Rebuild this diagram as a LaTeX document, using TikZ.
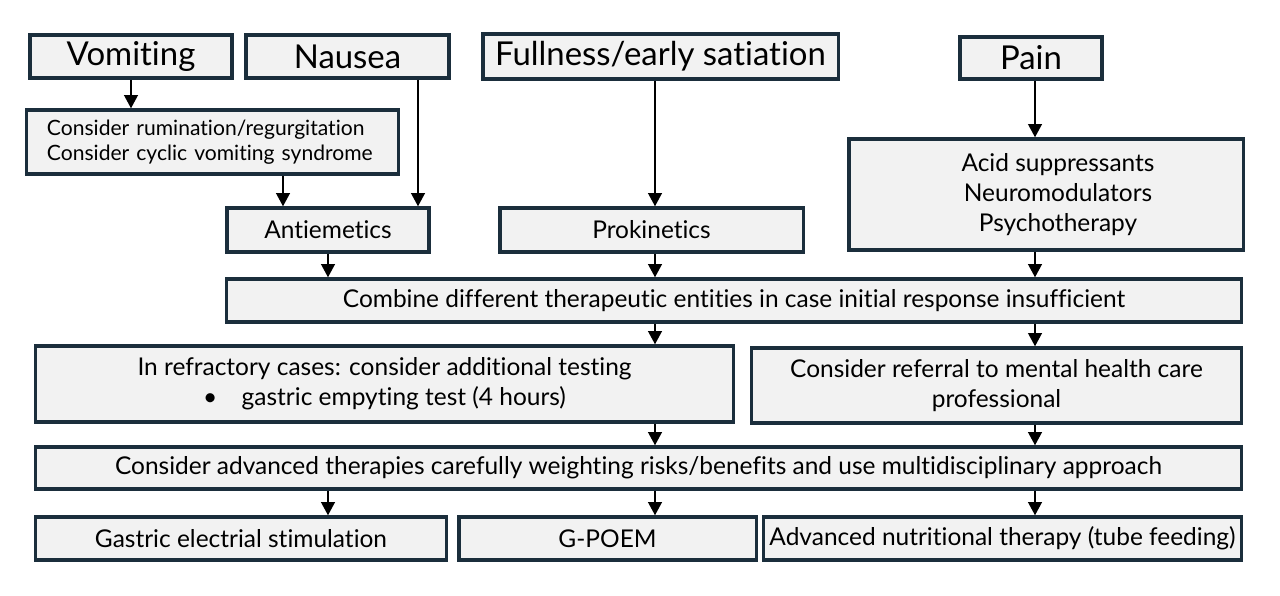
\documentclass[tikz,border=0pt]{standalone}
\usepackage{fontspec}
\setmainfont{Lato}[Ligatures={NoCommon}]
\usetikzlibrary{arrows.meta, positioning, calc}
\definecolor{boxline}{HTML}{1B2E3C}
\definecolor{boxfill}{HTML}{F2F2F2}

\begin{document}
\begin{tikzpicture}[x=0.025cm, y=-0.025cm,
  box/.style={draw=boxline, fill=boxfill, line width=2.2pt, inner sep=0pt,
    align=center, font=\fontsize{17.4}{21.5}\selectfont},
  big/.style={box, font=\fontsize{23.4}{27}\selectfont},
  arr/.style={-{Triangle[width=9.5pt,length=9.5pt]}, line width=2.1pt, black}]

  \useasboundingbox (0,0) rectangle (1280,596);

  % symptoms
  \node[big, minimum width=5.05cm, minimum height=1.075cm] (vom) at (131,56.5) {Vomiting};
  \node[big, minimum width=5.075cm, minimum height=1.075cm] (nau) at (347.5,56.5) {Nausea};
  \node[big, minimum width=8.875cm, minimum height=1.125cm] (full) at (660.5,56.5) {Fullness/early satiation};
  \node[big, minimum width=3.55cm, minimum height=1.05cm] (pain) at (1031,58) {Pain};

  % first line treatment
  \node[box, text width=8.275cm, inner xsep=0.5cm, align=left,
    minimum height=1.6cm, font=\fontsize{15}{18}\selectfont] (rum) at (212.5,142)
    {Consider rumination/regurgitation\\Consider cyclic vomiting syndrome};
  \node[box, minimum width=5.05cm, minimum height=1.1cm] (anti) at (328,230) {Antiemetics};
  \node[box, minimum width=7.575cm, minimum height=1.1cm] (prok) at (651.5,230) {Prokinetics};
  \node[box, minimum width=9.85cm, minimum height=2.775cm] (acid) at (1046,194.5)
    {\hspace*{0.6cm}Acid suppressants\\\hspace*{0.6cm}Neuromodulators\\\hspace*{0.6cm}Psychotherapy};

  % escalation
  \node[box, minimum width=25.35cm, minimum height=1.075cm] (comb) at (734,300.5)
    {Combine different therapeutic entities in case initial response insufficient};
  \node[box, minimum width=17.425cm, minimum height=1.9cm] (refr) at (384.5,384)
    {In refractory cases: consider additional testing\\
     \textbullet\quad gastric empyting test (4 hours)};
  \node[box, minimum width=12.225cm, minimum height=1.875cm] (refe) at (996.5,385.5)
    {Consider referral to mental health care\\professional};
  \node[box, minimum width=30.125cm, minimum height=1.05cm] (adv) at (638.5,468)
    {Consider advanced therapies carefully weighting risks/benefits and use multidisciplinary approach};

  % advanced therapies
  \node[box, minimum width=10.25cm, minimum height=1.075cm] (gast) at (241,538.5) {Gastric electrial stimulation};
  \node[box, minimum width=7.425cm, minimum height=1.075cm] (gpoem) at (607.5,538.5) {G-POEM};
  \node[box, minimum width=11.925cm, minimum height=1.075cm] (nutr) at (1002.5,538.5)
    {Advanced nutritional therapy (tube feeding)};

  % arrow columns
  \coordinate (c1) at (328,0);
  \coordinate (c2) at (655,0);
  \coordinate (c3) at (1035,0);
  \coordinate (r1) at (283,0);
  \coordinate (n1) at (418,0);

  \draw[arr] (vom.south) -- (vom.south |- rum.north);
  \draw[arr] (r1 |- rum.south) -- (r1 |- anti.north);
  \draw[arr] (n1 |- nau.south) -- (n1 |- anti.north);
  \draw[arr] (c2 |- full.south) -- (c2 |- prok.north);
  \draw[arr] (c3 |- pain.south) -- (c3 |- acid.north);
  \draw[arr] (c1 |- anti.south) -- (c1 |- comb.north);
  \draw[arr] (c2 |- prok.south) -- (c2 |- comb.north);
  \draw[arr] (c3 |- acid.south) -- (c3 |- comb.north);
  \draw[arr] (c2 |- comb.south) -- (c2 |- refr.north);
  \draw[arr] (c3 |- comb.south) -- (c3 |- refe.north);
  \draw[arr] (c2 |- refr.south) -- (c2 |- adv.north);
  \draw[arr] (c3 |- refe.south) -- (c3 |- adv.north);
  \draw[arr] (c1 |- adv.south) -- (c1 |- gast.north);
  \draw[arr] (c2 |- adv.south) -- (c2 |- gpoem.north);
  \draw[arr] (c3 |- adv.south) -- (c3 |- nutr.north);
\end{tikzpicture}
\end{document}
